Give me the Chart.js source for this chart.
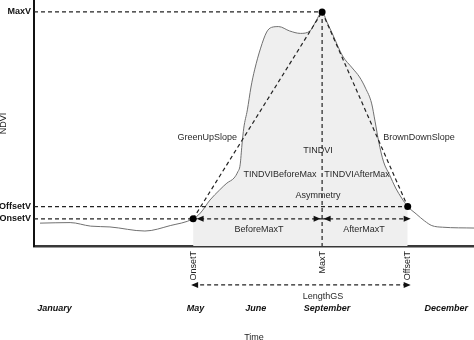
<!DOCTYPE html>
<html>
<head>
<meta charset="utf-8">
<style>
  html, body { margin: 0; padding: 0; background: #fff; }
  canvas { display: block; }
</style>
<script src="https://cdn.jsdelivr.net/npm/chart.js@4"></script>
</head>
<body>
<canvas id="c" width="474" height="340"></canvas>
<script>
// Seasonal NDVI profile (day of year, NDVI)
const ndviDays = [5, 30, 47, 63, 92, 113, 132, 138, 146, 154, 160, 166, 169, 171, 172.5, 174, 177, 180, 183,
  188, 193, 197, 203, 212, 221, 229, 234, 239, 243, 248, 256, 264, 270, 275, 280, 283, 286, 290, 295,
  300, 305, 310, 317, 324, 330, 339, 365];
const ndviValues = [0.084, 0.086, 0.073, 0.070, 0.055, 0.075, 0.100, 0.121, 0.169, 0.206, 0.231, 0.250, 0.272,
  0.298, 0.371, 0.433, 0.500, 0.584, 0.647, 0.727, 0.786, 0.803, 0.806, 0.790, 0.781, 0.790, 0.827, 0.860,
  0.823, 0.775, 0.698, 0.654, 0.621, 0.580, 0.525, 0.456, 0.382, 0.309, 0.261, 0.213, 0.176, 0.145, 0.118,
  0.092, 0.075, 0.069, 0.066];

// Phenological metrics
const phenoT = [132, 239, 310];                 // onset, peak, offset (day of year)
const phenoTNames = ['OnsetT', 'MaxT', 'OffsetT'];
const phenoV = [0.10, 0.145, 0.86];             // onset, offset, peak NDVI
const phenoVNames = ['OnsetV', 'OffsetV', 'MaxV'];
const lengthGSLevel = -0.143;                   // level of the season-length arrow, below the axis

// Month tick labels on the time axis
const monthDays = [17, 134, 184, 243, 342];
const monthNames = ['January', 'May', 'June', 'September', 'December'];

// Annotation texts and where they sit (data coordinates)
const noteTexts = ['GreenUpSlope', 'TINDVI', 'TINDVIBeforeMax', 'TINDVIAfterMax', 'Asymmetry',
  'BeforeMaxT', 'AfterMaxT', 'BrownDownSlope', 'LengthGS'];
const notePlacement = [
  { x: 168.4, y: 0.400, align: 'right' },
  { x: 235.6, y: 0.349, align: 'center' },
  { x: 204.1, y: 0.261, align: 'center' },
  { x: 267.9, y: 0.261, align: 'center' },
  { x: 235.6, y: 0.184, align: 'center' },
  { x: 186.6, y: 0.061, align: 'center' },
  { x: 273.8, y: 0.061, align: 'center' },
  { x: 319.4, y: 0.400, align: 'center' },
  { x: 239.7, y: -0.184, align: 'center' }
];

const [onsetT, maxT, offsetT] = phenoT;
const [onsetV, offsetV, maxV] = phenoV;

const FONT = "'Liberation Sans', Arial, Helvetica, sans-serif";
Chart.defaults.font.family = FONT;
Chart.defaults.font.size = 9;

const curve = ndviDays.map((d, i) => ({ x: d, y: ndviValues[i] }));
const season = curve.filter(p => p.x >= onsetT && p.x <= offsetT);

const dashed = (data, extra) => Object.assign({
  data, borderColor: '#222', borderWidth: 1.2, borderDash: [4, 3],
  pointRadius: 0, fill: false, tension: 0, order: 3
}, extra || {});

// Filled arrowheads at the ends of datasets flagged with `arrows`
const arrowHeads = {
  id: 'arrowHeads',
  afterDatasetsDraw(chart) {
    const ctx = chart.ctx;
    chart.data.datasets.forEach((ds, i) => {
      if (!ds.arrows) return;
      const pts = chart.getDatasetMeta(i).data;
      const a = pts[0], b = pts[pts.length - 1];
      const head = (from, tip, inset) => {
        const ang = Math.atan2(tip.y - from.y, tip.x - from.x);
        const tx = tip.x - Math.cos(ang) * inset, ty = tip.y - Math.sin(ang) * inset;
        const L = 7, W = 3;
        ctx.save();
        ctx.translate(tx, ty);
        ctx.rotate(ang);
        ctx.beginPath();
        ctx.moveTo(0, 0);
        ctx.lineTo(-L, -W);
        ctx.lineTo(-L, W);
        ctx.closePath();
        ctx.fillStyle = '#111';
        ctx.fill();
        ctx.restore();
      };
      head(b, a, ds.arrows[0]);
      head(a, b, ds.arrows[1]);
    });
  }
};

// Text annotations placed through the chart scales
const notes = {
  id: 'notes',
  afterDatasetsDraw(chart) {
    const ctx = chart.ctx, xs = chart.scales.x, ys = chart.scales.y;
    ctx.save();
    ctx.font = '9px ' + FONT;
    ctx.fillStyle = '#2a2a2a';
    ctx.textBaseline = 'middle';
    noteTexts.forEach((t, i) => {
      const p = notePlacement[i];
      ctx.textAlign = p.align;
      ctx.fillText(t, xs.getPixelForValue(p.x), ys.getPixelForValue(p.y));
    });
    ctx.restore();
  }
};

// Keep axis boxes at fixed sizes and let labels overhang the edges
const fixBox = (w, h) => s => {
  if (w != null) s.width = w;
  if (h != null) s.height = h;
  s.paddingLeft = 0; s.paddingRight = 0; s.paddingTop = 0; s.paddingBottom = 0;
};

new Chart(document.getElementById('c'), {
  type: 'line',
  data: {
    datasets: [
      { // key points
        data: [{ x: onsetT, y: onsetV }, { x: maxT, y: maxV }, { x: offsetT, y: offsetV }],
        showLine: false, pointRadius: 3.5, pointBackgroundColor: '#000', pointBorderWidth: 0, order: 1
      },
      // horizontal reference levels
      dashed([{ x: 0, y: maxV }, { x: maxT, y: maxV }]),
      dashed([{ x: 0, y: offsetV }, { x: offsetT, y: offsetV }]),
      dashed([{ x: 0, y: onsetV }, { x: onsetT, y: onsetV }]),
      // slopes
      dashed([{ x: onsetT, y: onsetV }, { x: maxT, y: maxV }]),
      dashed([{ x: maxT, y: maxV }, { x: offsetT, y: offsetV }]),
      // peak vertical
      dashed([{ x: maxT, y: maxV }, { x: maxT, y: 0 }]),
      // duration arrows
      dashed([{ x: onsetT, y: onsetV }, { x: maxT, y: onsetV }], { arrows: [3.5, 1.5] }),
      dashed([{ x: maxT, y: onsetV }, { x: offsetT, y: onsetV }], { arrows: [1.5, -3] }),
      dashed([{ x: onsetT, y: lengthGSLevel }, { x: offsetT, y: lengthGSLevel }], { arrows: [-2, -3], clip: false }),
      { // NDVI curve
        data: curve, borderColor: '#707070', borderWidth: 1, pointRadius: 0, fill: false,
        cubicInterpolationMode: 'monotone', order: 5
      },
      { // growing-season area
        data: season, borderWidth: 0, borderColor: 'rgba(0,0,0,0)', pointRadius: 0,
        fill: 'origin', backgroundColor: '#efefef', cubicInterpolationMode: 'monotone', order: 10
      }
    ]
  },
  options: {
    responsive: false,
    animation: false,
    devicePixelRatio: 1,
    layout: { autoPadding: false, padding: { top: 1, left: 0, right: 0, bottom: 0 } },
    plugins: { legend: { display: false }, tooltip: { enabled: false } },
    scales: {
      x: {
        type: 'linear', min: 0, max: 365, position: 'bottom', weight: 0,
        grid: { display: false, drawTicks: false },
        border: { display: true, color: '#383838', width: 2.5 },
        afterBuildTicks: s => { s.ticks = phenoT.map(v => ({ value: v })); },
        afterFit: fixBox(null, 40),
        ticks: {
          autoSkip: false, minRotation: 90, maxRotation: 90, padding: 5, color: '#222',
          font: { size: 9 },
          callback: (v, i) => phenoTNames[i]
        }
      },
      x2: {
        type: 'linear', min: 0, max: 365, position: 'bottom', weight: 1,
        grid: { display: false, drawTicks: false },
        border: { display: false },
        afterBuildTicks: s => { s.ticks = monthDays.map(v => ({ value: v })); },
        afterFit: fixBox(null, 54),
        ticks: {
          autoSkip: false, maxRotation: 0, padding: 17, color: '#111',
          font: { size: 9, style: 'italic', weight: 'bold' },
          callback: (v, i) => monthNames[i]
        },
        title: { display: true, text: 'Time', color: '#222', font: { size: 9 }, padding: { top: 0, bottom: -3 } }
      },
      y: {
        type: 'linear', min: 0, max: 0.9, position: 'left',
        grid: { display: false, drawTicks: false },
        border: { display: true, color: '#111', width: 2 },
        afterBuildTicks: s => { s.ticks = phenoV.map(v => ({ value: v })); },
        afterFit: fixBox(34, null),
        ticks: {
          autoSkip: false, padding: 3, color: '#111',
          font: { size: 9, weight: 'bold' },
          callback: (v, i) => phenoVNames[i]
        },
        title: { display: true, text: 'NDVI', color: '#222', font: { size: 9 }, padding: { top: -2, bottom: 0 } }
      }
    }
  },
  plugins: [arrowHeads, notes]
});
</script>
</body>
</html>
